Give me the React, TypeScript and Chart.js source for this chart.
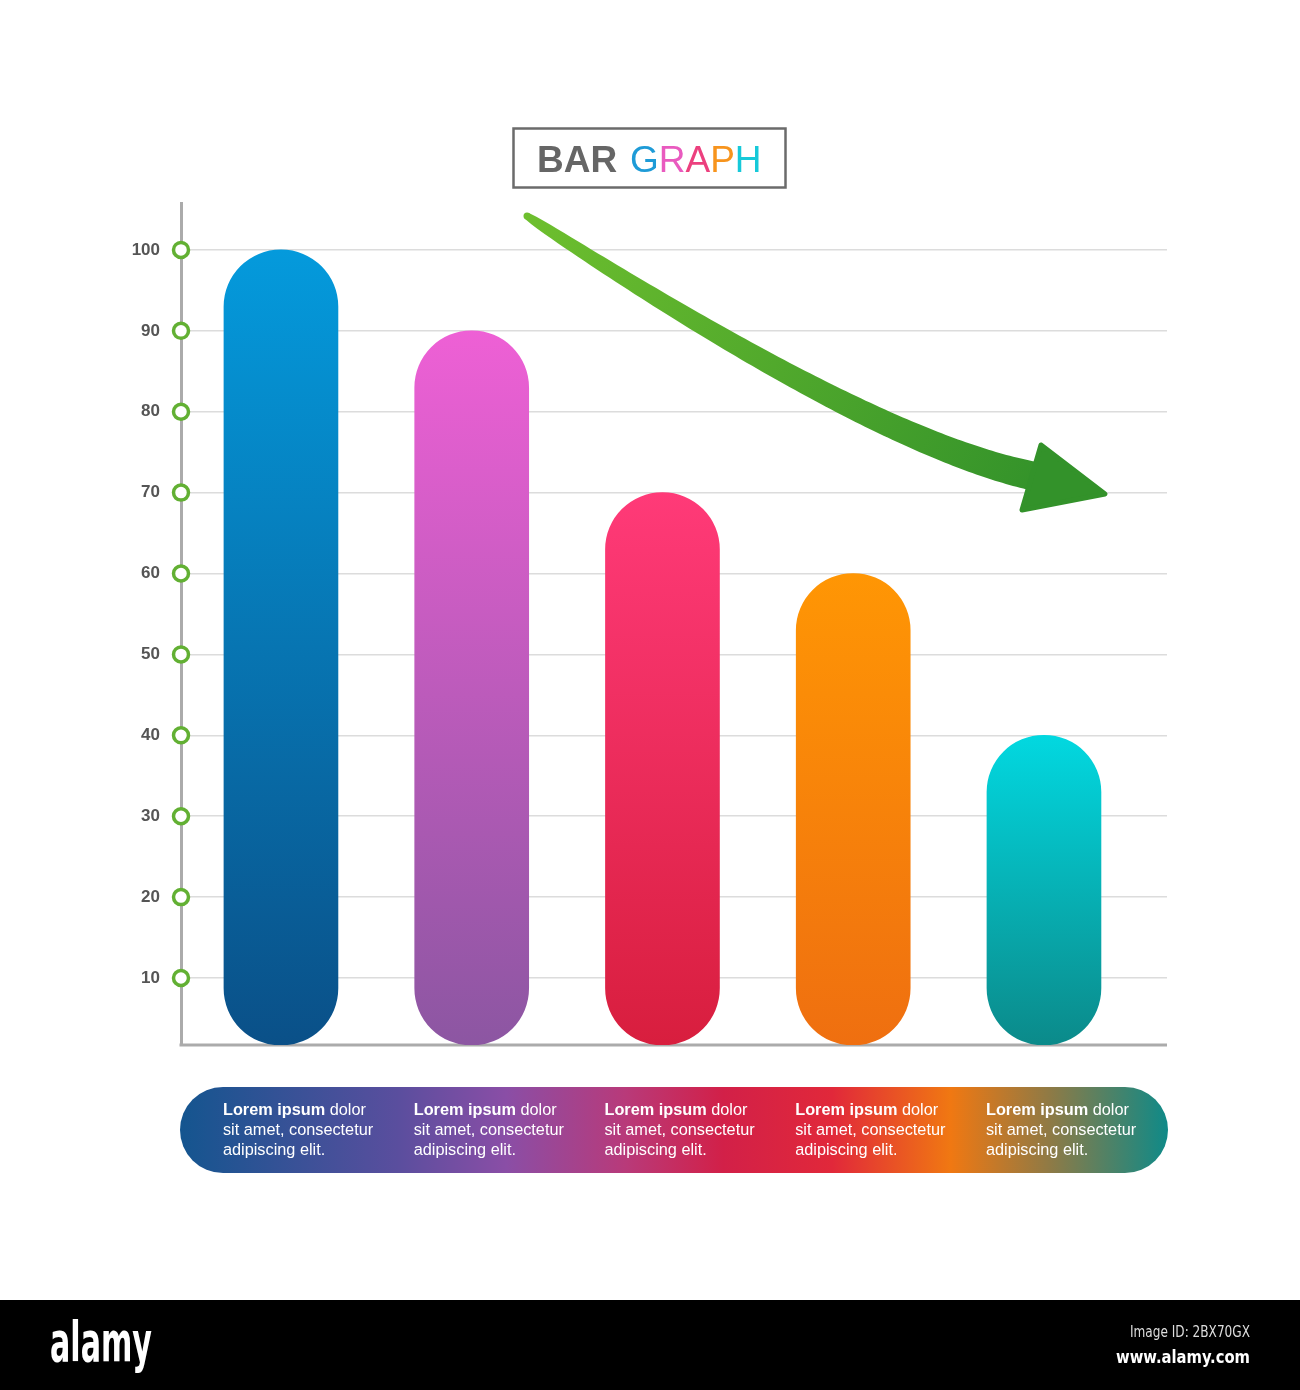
import React, { useEffect, useRef } from 'react';
import { Chart, registerables } from 'chart.js';

Chart.register(...registerables);

// ---- data ----
const categories = ['Item 1', 'Item 2', 'Item 3', 'Item 4', 'Item 5'];
const xPositions = [0, 1, 2, 3, 4];
const values = [100, 90, 70, 60, 40];
const yTicks = [10, 20, 30, 40, 50, 60, 70, 80, 90, 100];
const yMin = 1.72;
const yMax = 105.8;
const barTopColors = ['#049ADC', '#EE60D5', '#FF3A78', '#FF9604', '#02D8E0'];
const barBottomColors = ['#0A5088', '#8C56A2', '#D81E3E', '#EF6F10', '#0B8A8A'];
const titleMain = 'BAR';
const titleLetters = ['G', 'R', 'A', 'P', 'H'];
const titleLetterColors = ['#1E9BD7', '#E95ABF', '#EC407E', '#F7941D', '#16C9D9'];
const captionBold = 'Lorem ipsum';
const captionLines = [' dolor', 'sit amet, consectetur', 'adipiscing elit.'];
const bandStops = [0, 0.22, 0.33, 0.45, 0.55, 0.66, 0.78, 0.88, 1];
const bandColors = ['#14558F', '#5A4E9E', '#8A4EA6', '#B83A7A', '#D22048', '#E1283A', '#F07812', '#8F7A45', '#0F8A88'];

const FONT = '"Liberation Sans", Arial, Helvetica, sans-serif';

function drawArrow(ctx: CanvasRenderingContext2D) {
  const P0 = [527, 216];
  const P1 = [872, 442];
  const P2 = [1033, 476];
  const N = 100;
  const left: number[][] = [];
  const right: number[][] = [];
  for (let i = 0; i <= N; i++) {
    const t = i / N;
    const x = (1 - t) * (1 - t) * P0[0] + 2 * (1 - t) * t * P1[0] + t * t * P2[0];
    const y = (1 - t) * (1 - t) * P0[1] + 2 * (1 - t) * t * P1[1] + t * t * P2[1];
    const dx = 2 * (1 - t) * (P1[0] - P0[0]) + 2 * t * (P2[0] - P1[0]);
    const dy = 2 * (1 - t) * (P1[1] - P0[1]) + 2 * t * (P2[1] - P1[1]);
    const len = Math.hypot(dx, dy);
    const nx = -dy / len;
    const ny = dx / len;
    const w = (7 + 22 * Math.sqrt(t)) / 2;
    left.push([x + nx * w, y + ny * w]);
    right.push([x - nx * w, y - ny * w]);
  }
  const g = ctx.createLinearGradient(527, 216, 1050, 480);
  g.addColorStop(0, '#6EBF2E');
  g.addColorStop(1, '#33922A');
  ctx.save();
  ctx.beginPath();
  ctx.moveTo(left[0][0], left[0][1]);
  for (const p of left) ctx.lineTo(p[0], p[1]);
  for (let i = right.length - 1; i >= 0; i--) ctx.lineTo(right[i][0], right[i][1]);
  ctx.closePath();
  ctx.fillStyle = g;
  ctx.fill();
  ctx.beginPath();
  ctx.arc(P0[0], P0[1], 3.5, 0, Math.PI * 2);
  ctx.fillStyle = '#6EBF2E';
  ctx.fill();
  // head
  ctx.beginPath();
  ctx.moveTo(1041, 445);
  ctx.lineTo(1105, 494);
  ctx.lineTo(1022, 510);
  ctx.closePath();
  ctx.fillStyle = '#33922A';
  ctx.strokeStyle = '#33922A';
  ctx.lineJoin = 'round';
  ctx.lineWidth = 5;
  ctx.fill();
  ctx.stroke();
  ctx.restore();
}

const decorPlugin = {
  id: 'decor',
  beforeDatasetsDraw(chart: any) {
    const { ctx, chartArea } = chart;
    ctx.save();
    ctx.strokeStyle = '#ABABAB';
    ctx.lineWidth = 3;
    ctx.beginPath();
    ctx.moveTo(chartArea.left - 1.5, chartArea.bottom);
    ctx.lineTo(chartArea.right, chartArea.bottom);
    ctx.stroke();
    ctx.restore();
  },
  afterDraw(chart: any) {
    const { ctx, chartArea, scales } = chart;
    ctx.save();
    // tick circles
    for (const v of yTicks) {
      const y = scales.y.getPixelForValue(v);
      ctx.beginPath();
      ctx.arc(chartArea.left, y, 7.5, 0, Math.PI * 2);
      ctx.fillStyle = '#FFFFFF';
      ctx.fill();
      ctx.lineWidth = 3.5;
      ctx.strokeStyle = '#62B033';
      ctx.stroke();
    }
    // title box
    ctx.lineWidth = 2.5;
    ctx.strokeStyle = '#6B6B6B';
    ctx.strokeRect(513.5, 128.5, 272, 59);
    ctx.textBaseline = 'alphabetic';
    ctx.textAlign = 'left';
    ctx.font = `bold 37px ${FONT}`;
    ctx.fillStyle = '#666666';
    ctx.fillText(titleMain, 537, 172);
    let x = 630;
    ctx.font = `37px ${FONT}`;
    titleLetters.forEach((ch, i) => {
      ctx.fillStyle = titleLetterColors[i];
      ctx.fillText(ch, x, 172);
      x += ctx.measureText(ch).width;
    });
    // arrow
    drawArrow(ctx);
    // caption band
    const bx = 180, by = 1087, bw = 988, bh = 86, r = 43;
    const g = ctx.createLinearGradient(bx, 0, bx + bw, 0);
    bandStops.forEach((s, i) => g.addColorStop(s, bandColors[i]));
    ctx.beginPath();
    ctx.moveTo(bx + r, by);
    ctx.lineTo(bx + bw - r, by);
    ctx.arc(bx + bw - r, by + r, r, -Math.PI / 2, Math.PI / 2);
    ctx.lineTo(bx + r, by + bh);
    ctx.arc(bx + r, by + r, r, Math.PI / 2, Math.PI * 1.5);
    ctx.closePath();
    ctx.fillStyle = g;
    ctx.fill();
    const meta = chart.getDatasetMeta(0);
    ctx.fillStyle = '#FFFFFF';
    categories.forEach((_, i) => {
      const el = meta.data[i];
      const lx = el.x - el.width / 2 - 1;
      ctx.font = `bold 16.3px ${FONT}`;
      ctx.fillText(captionBold, lx, 1115);
      const w = ctx.measureText(captionBold).width;
      ctx.font = `16.3px ${FONT}`;
      ctx.fillText(captionLines[0], lx + w, 1115);
      ctx.fillText(captionLines[1], lx, 1135);
      ctx.fillText(captionLines[2], lx, 1155);
    });
    // stock footer band
    ctx.fillStyle = '#000000';
    ctx.fillRect(0, 1300, 1300, 90);
    ctx.fillStyle = '#FFFFFF';
    ctx.font = `bold 56px "DejaVu Sans Condensed", ${FONT}`;
    ctx.fillText('alamy', 50, 1361, 102);
    ctx.textAlign = 'right';
    ctx.fillStyle = '#DDDDDD';
    ctx.font = `15px "DejaVu Sans Condensed", ${FONT}`;
    ctx.fillText('Image ID: 2BX70GX', 1250, 1337, 120);
    ctx.fillStyle = '#FFFFFF';
    ctx.font = `bold 17px "DejaVu Sans Condensed", ${FONT}`;
    ctx.fillText('www.alamy.com', 1250, 1363, 134);
    ctx.restore();
  },
};

export default function App() {
  const canvasRef = useRef<HTMLCanvasElement | null>(null);

  useEffect(() => {
    document.body.style.margin = '0';
    document.body.style.background = '#FFFFFF';
    const canvas = canvasRef.current;
    if (!canvas) return;
    const chart = new Chart(canvas, {
      type: 'bar',
      data: {
        labels: categories,
        datasets: [
          {
            data: xPositions.map((x, i) => ({ x, y: values[i] })),
            base: yMin,
            backgroundColor: (c: any) => {
              const { chart: ch, dataIndex } = c;
              const area = ch.chartArea;
              const ys = ch.scales?.y;
              if (!area || !ys || dataIndex === undefined) return barTopColors[dataIndex ?? 0];
              const top = ys.getPixelForValue(values[dataIndex]);
              const gr = ch.ctx.createLinearGradient(0, top, 0, area.bottom);
              gr.addColorStop(0, barTopColors[dataIndex]);
              gr.addColorStop(1, barBottomColors[dataIndex]);
              return gr;
            },
            borderWidth: 0,
            borderRadius: 300,
            borderSkipped: false,
            barThickness: 114,
          },
        ],
      },
      options: {
        responsive: false,
        animation: false,
        layout: { padding: { left: 121, right: 133, top: 203, bottom: 345 } },
        plugins: { legend: { display: false }, tooltip: { enabled: false }, title: { display: false } },
        scales: {
          x: {
            type: 'linear',
            min: -0.524,
            max: 4.645,
            offset: false,
            display: false,
            afterBuildTicks: (s: any) => {
              s.ticks = xPositions.map((v) => ({ value: v }));
            },
          },
          y: {
            type: 'linear',
            min: yMin,
            max: yMax,
            afterBuildTicks: (s: any) => {
              s.ticks = yTicks.map((v) => ({ value: v }));
            },
            afterFit: (s: any) => {
              s.width = 60;
            },
            ticks: {
              color: '#555555',
              font: { family: FONT, size: 17, weight: 'bold' },
              padding: 21,
            },
            grid: { color: '#DCDCDC', lineWidth: 1.5, drawTicks: false },
            border: { color: '#ABABAB', width: 3 },
          },
        },
      },
      plugins: [decorPlugin],
    } as any);
    return () => chart.destroy();
  }, []);

  return (
    <div style={{ width: 1300, height: 1390, background: '#FFFFFF' }}>
      <canvas ref={canvasRef} width={1300} height={1390} style={{ display: 'block' }} />
    </div>
  );
}
